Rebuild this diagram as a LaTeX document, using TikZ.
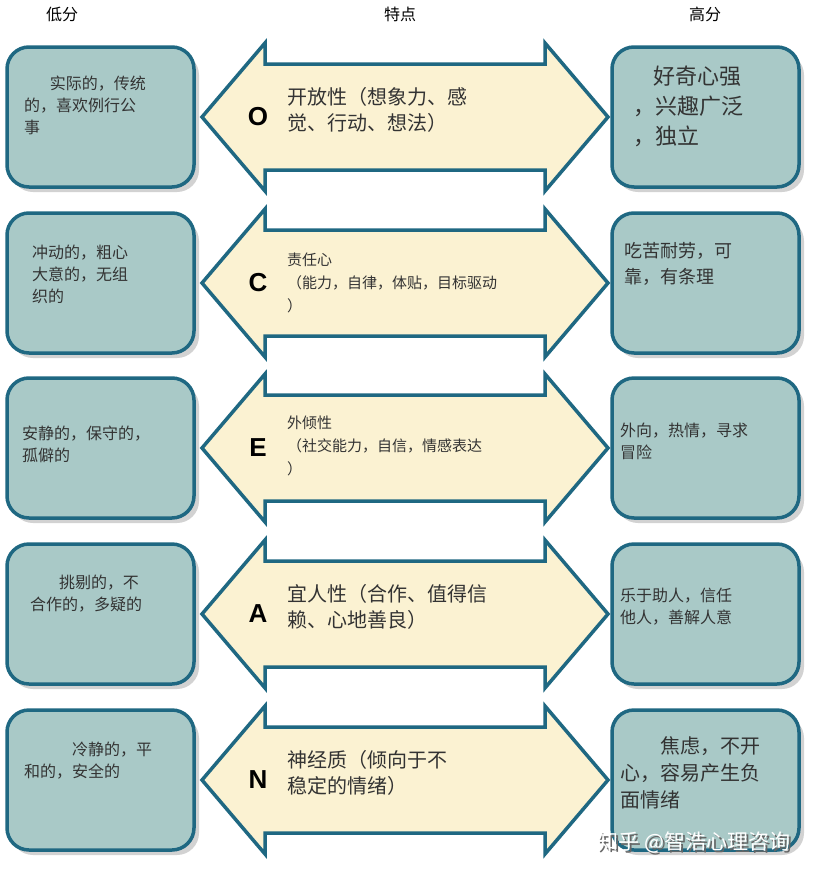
\documentclass[tikz,border=0pt]{standalone}
\usepackage{fontspec}
\setmainfont{Noto Sans CJK SC}
\newfontfamily\lat{Liberation Sans}
\begin{document}
\begin{tikzpicture}[x=1pt,y=-1pt,
  box/.style={draw=bd,line width=3.5pt,fill=bx,rounded corners=22pt},
  shd/.style={fill=gray!35,rounded corners=22pt},
  arr/.style={draw=bd,line width=3.5pt,fill=ay,line join=miter},
  ltxt/.style={anchor=north west,align=left,text=tx,font=\fontsize{16}{22}\selectfont,inner sep=0pt},
  atxt/.style={anchor=west,align=left,text=tx,font=\fontsize{20}{26}\selectfont,inner sep=0pt},
  stxt/.style={anchor=west,align=left,text=tx,font=\fontsize{15}{23}\selectfont,inner sep=0pt},
  letter/.style={font=\lat\bfseries\fontsize{26}{26}\selectfont,text=black},
  hdr/.style={font=\fontsize{16}{16}\selectfont,text=black}]
\definecolor{bd}{HTML}{1F6882}
\definecolor{bx}{HTML}{A9C9C7}
\definecolor{ay}{HTML}{FBF2D2}
\definecolor{tx}{HTML}{333333}
\useasboundingbox (0,0) rectangle (828,876);
\fill[white] (0,0) rectangle (828,876);
\node[hdr] (h1) at (62,14) {低分};
\node[hdr] (h2) at (400,14) {特点};
\node[hdr] (h3) at (705,14) {高分};
\foreach \c in {117,283,448,614,780}{
  \fill[shd] (11,{\c-64}) rectangle (199,{\c+75});
  \fill[shd] (616,{\c-64}) rectangle (804,{\c+75});
  \draw[box] (7,{\c-70}) rectangle (194,{\c+70});
  \draw[box] (612,{\c-70}) rectangle (799,{\c+70});
  \draw[arr] (202,\c) -- (265,{\c-74}) -- (265,{\c-53}) -- (545,{\c-53}) -- (545,{\c-74})
     -- (608,\c) -- (545,{\c+74}) -- (545,{\c+53}) -- (265,{\c+53}) -- (265,{\c+74}) -- cycle;
}
% row O
\node[letter] (lO) at (258,117) {O};
\node[atxt] (tO) at (287,110) {开放性（想象力、感\\觉、行动、想法）};
\node[ltxt] (lo) at (24,76) {\hspace{1.6em}实际的，传统\\的，喜欢例行公\\事};
\node[anchor=north west,align=left,text=tx,font=\fontsize{22}{30}\selectfont,inner sep=0pt] (ro) at (633,66) {\hspace{0.9em}好奇心强\\，兴趣广泛\\，独立};
% row C
\node[letter] (lC) at (258,283) {C};
\node[stxt] (tC) at (287,283) {责任心\\（能力，自律，体贴，目标驱动\\）};
\node[ltxt] (lc) at (32,245) {冲动的，粗心\\大意的，无组\\织的};
\node[anchor=north west,align=left,text=tx,font=\fontsize{18}{26}\selectfont,inner sep=0pt] (rc) at (624,242) {吃苦耐劳，可\\靠，有条理};
% row E
\node[letter] (lE) at (258,448) {E};
\node[stxt] (tE) at (287,446) {外倾性\\（社交能力，自信，情感表达\\）};
\node[ltxt] (le) at (22,426) {安静的，保守的，\\孤僻的};
\node[ltxt] (re) at (620,423) {外向，热情，寻求\\冒险};
% row A
\node[letter] (lA) at (258,614) {A};
\node[atxt] (tA) at (287,607) {宜人性（合作、值得信\\赖、心地善良）};
\node[ltxt] (la) at (30,575) {\hspace{1.8em}挑剔的，不\\合作的，多疑的};
\node[ltxt] (ra) at (620,588) {乐于助人，信任\\他人，善解人意};
% row N
\node[letter] (lN) at (258,780) {N};
\node[atxt] (tN) at (287,773) {神经质（倾向于不\\稳定的情绪）};
\node[ltxt] (ln) at (24,742) {\hspace{3em}冷静的，平\\和的，安全的};
\node[anchor=north west,align=left,text=tx,font=\fontsize{20}{27}\selectfont,inner sep=0pt] (rn) at (620,736) {\hspace{2em}焦虑，不开\\心，容易产生负\\面情绪};
% watermark
\node[text=black!60,font=\fontsize{21}{21}\selectfont] (wms) at (696,844) {知乎 @智浩心理咨询};
\node[text=white,font=\fontsize{21}{21}\selectfont] (wm) at (694,842) {知乎 @智浩心理咨询};
\end{tikzpicture}
\end{document}
